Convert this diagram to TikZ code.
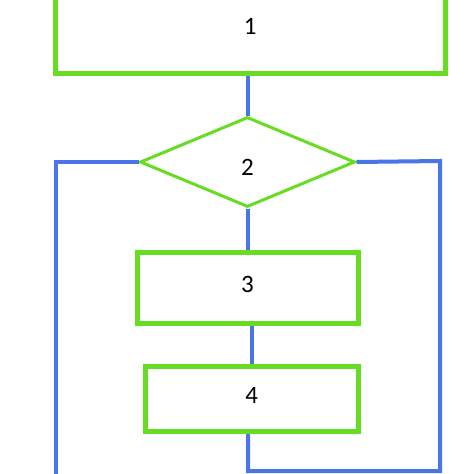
\documentclass[tikz,border=0pt]{standalone}
\usepackage{fontspec}
\setmainfont{Carlito}
\usepackage{tikz}
\usetikzlibrary{
    calc,
    positioning,
    shapes.geometric
}
\definecolor{flowgreen}{RGB}{102,221,34}
\definecolor{flowblue}{RGB}{72,118,230}
\tikzset{
    stepbox/.style={
        shape=rectangle, draw=flowgreen, line width=5pt, align=center,
        minimum width=#1, inner sep=0pt
    },
    choice/.style={
        shape=diamond, draw=flowgreen, line width=3pt, align=center,
        inner sep=0pt, text height=27pt
    },
    link/.style={
        draw=flowblue, line width=4pt
    },
}

\begin{document}
\begin{tikzpicture}[x=1pt, y=1pt, font=\fontsize{25}{30}\selectfont]
    \useasboundingbox (0,0) rectangle (474,-474);
    \clip (0,0) rectangle (474,-474);
    \fill[white] (0,0) rectangle (474,-474);

    \node[stepbox=390.5pt, minimum height=93.5pt] (box1) at (250.25,-26.75) {1};
    \node[choice, minimum width=215pt, minimum height=90pt] (dec2) at (247.5,-162) {2};
    \node[stepbox=221pt, minimum height=71.5pt, text depth=7pt] (box3) at (247.5,-287.75) {3};
    \node[stepbox=213.5pt, minimum height=65.5pt, text depth=7pt] (box4) at (251.75,-398.75) {4};

    \coordinate (leftturn) at (56,-162);
    \coordinate (leftend) at (56,-480);
    \coordinate (rightturn) at (440,-161);
    \coordinate (rightcorner) at (440,-471);
    \coordinate (back) at (248,-471);

    \draw[link] (dec2.north |- box1.south) -- (dec2.north);
    \draw[link] (dec2.south) -- (box3.north);
    \draw[link] (box4.north |- box3.south) -- (box4.north);
    \draw[link] (dec2.west) -- (leftturn) -- (leftend);
    \draw[link] (dec2.east) -- (rightturn) -- (rightcorner) -- (back) -- (back |- box4.south);
\end{tikzpicture}
\end{document}
